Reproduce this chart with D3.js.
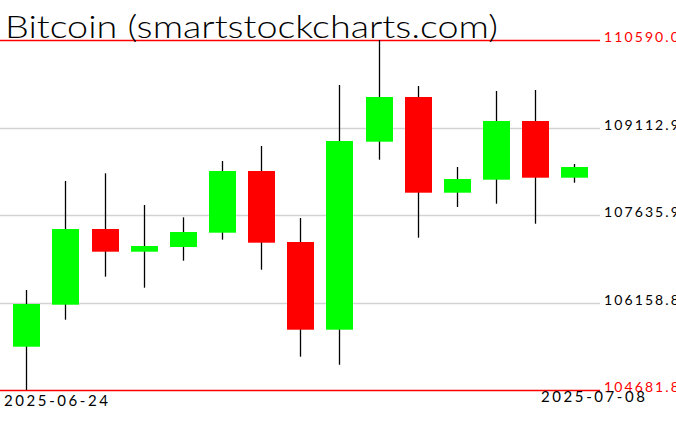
<!DOCTYPE html>
<html lang="en">
<head>
    <meta charset="UTF-8">
    <title>Bitcoin (smartstockcharts.com)</title>
    <script src="https://d3js.org/d3.v7.min.js"></script>
    <style>
        body { margin: 0; background: #fff; }
        svg { display: block; }
        .title { font-family: Lato, "DejaVu Sans", sans-serif; font-weight: 300; }
        .lbl { font-family: Lato, "DejaVu Sans", sans-serif; font-weight: 400; }
    </style>
</head>
<body>
    <div id="chart"></div>
    <script>
        // daily candles
        const dates  = ["2025-06-24", "2025-06-25", "2025-06-26", "2025-06-27", "2025-06-28",
                        "2025-06-29", "2025-06-30", "2025-07-01", "2025-07-02", "2025-07-03",
                        "2025-07-04", "2025-07-05", "2025-07-06", "2025-07-07", "2025-07-08"];
        const opens  = [105412.7, 106121.8, 107399.6, 107016.4, 107095.8, 107337.2, 108378.7, 107180.2,
                        105699.7, 108873.4, 109627.9, 108012.4, 108231.9, 109222.8, 108265.6];
        const highs  = [106369.9, 108209.9, 108339.9, 107804.8, 107597.1, 108547.5, 108800.8, 107585.3,
                        109830.5, 110590.0, 109813.6, 108446.3, 109729.2, 109746.1, 108496.9];
        const lows   = [104681.8, 105868.5, 106594.4, 106408.7, 106864.5, 107219.0, 106712.6, 105243.9,
                        105108.9, 108569.5, 107252.8, 107771.0, 107826.7, 107489.1, 108181.2];
        const closes = [106133.6, 107399.6, 107016.4, 107112.7, 107349.0, 108378.7, 107168.4, 105699.7,
                        108885.2, 109627.9, 108012.4, 108243.7, 109222.8, 108265.6, 108446.3];
        const yTickLabels = ["110590.0", "109112.9", "107635.9", "106158.8", "104681.8"];
        const xTickLabels = ["2025-06-24", "2025-07-08"];

        const W = 676, H = 431;
        const plotRight = 600;

        const svg = d3.select("#chart").append("svg")
            .attr("width", W)
            .attr("height", H);

        const candles = dates.map((d, i) => ({
            date: d, open: opens[i], high: highs[i], low: lows[i], close: closes[i]
        }));

        const x = d3.scalePoint()
            .domain(dates)
            .range([26.3, 574.3]);

        const y = d3.scaleLinear()
            .domain([d3.min(lows), d3.max(highs)])
            .range([390, 40]);

        const bodyW = 27;

        // horizontal grid + price labels
        yTickLabels.forEach((t, i) => {
            const edge = i === 0 || i === yTickLabels.length - 1;
            const yy = Math.round(y(+t)) + 0.5;
            svg.append("line")
                .attr("x1", 0).attr("x2", plotRight)
                .attr("y1", yy).attr("y2", yy)
                .attr("stroke", edge ? "#ff0000" : "#d3d3d3")
                .attr("stroke-width", 1.3);
            svg.append("text")
                .attr("class", "lbl")
                .attr("x", 604)
                .attr("y", yy + 1)
                .attr("font-size", 14)
                .attr("letter-spacing", 2.1)
                .attr("fill", edge ? "#ff0000" : "#000")
                .text(t);
        });

        // wicks
        svg.selectAll(".wick")
            .data(candles)
            .enter()
            .append("line")
            .attr("class", "wick")
            .attr("x1", d => Math.round(x(d.date)) + 0.5)
            .attr("x2", d => Math.round(x(d.date)) + 0.5)
            .attr("y1", d => y(d.high))
            .attr("y2", d => y(d.low))
            .attr("stroke", "#000")
            .attr("stroke-width", 1.3);

        // bodies
        svg.selectAll(".body")
            .data(candles)
            .enter()
            .append("rect")
            .attr("class", "body")
            .attr("x", d => Math.round(x(d.date)) + 0.5 - bodyW / 2)
            .attr("y", d => y(Math.max(d.open, d.close)))
            .attr("width", bodyW)
            .attr("height", d => Math.max(1, Math.abs(y(d.open) - y(d.close))))
            .attr("fill", d => d.close >= d.open ? "#00ff00" : "#ff0000");

        // date labels, first and last only
        svg.append("text")
            .attr("class", "lbl")
            .attr("x", 4)
            .attr("y", 406)
            .attr("font-size", 15)
            .attr("textLength", 104)
            .attr("lengthAdjust", "spacing")
            .text(xTickLabels[0]);

        svg.append("text")
            .attr("class", "lbl")
            .attr("x", 541)
            .attr("y", 401.5)
            .attr("font-size", 15)
            .attr("textLength", 104)
            .attr("lengthAdjust", "spacing")
            .text(xTickLabels[1]);

        svg.append("text")
            .attr("class", "title")
            .attr("x", 5)
            .attr("y", 38)
            .attr("font-size", 32)
            .attr("textLength", 493)
            .attr("lengthAdjust", "spacingAndGlyphs")
            .text("Bitcoin (smartstockcharts.com)");
    </script>
</body>
</html>
